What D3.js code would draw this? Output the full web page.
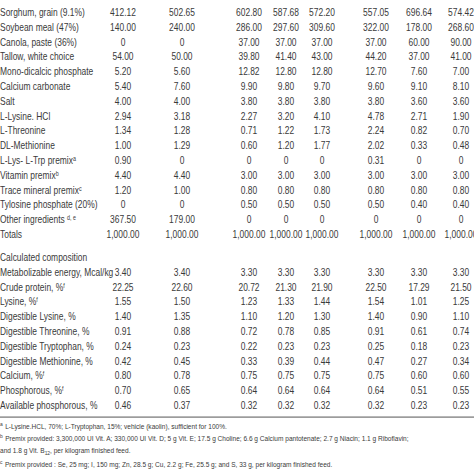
<!DOCTYPE html>
<html><head><meta charset="utf-8">
<script src="https://cdn.jsdelivr.net/npm/d3@7"></script>
<style>body{margin:0;background:#fff}text{font-family:"Liberation Sans",Arial,sans-serif;fill:#3a3a3a}</style>
</head><body><svg id="t" width="474" height="474"></svg>
<script>
// ingredient rows
const ingredients = [
  ["Sorghum, grain (9.1%)", ""], ["Soybean meal (47%)", ""], ["Canola, paste (36%)", ""],
  ["Tallow, white choice", ""], ["Mono-dicalcic phosphate", ""], ["Calcium carbonate", ""],
  ["Salt", ""], ["L-Lysine. HCl", ""], ["L-Threonine", ""], ["DL-Methionine", ""],
  ["L-Lys- L-Trp premix", "a"], ["Vitamin premix", "b"], ["Trace mineral premix", "c"],
  ["Tylosine phosphate (20%)", ""], ["Other ingredients ", "d, e"], ["Totals", ""]
];
const ingredientValues = [
  ["412.12","502.65","602.80","587.68","572.20","557.05","696.64","574.42"],
  ["140.00","240.00","286.00","297.60","309.60","322.00","178.00","268.60"],
  ["0","0","37.00","37.00","37.00","37.00","60.00","90.00"],
  ["54.00","50.00","39.80","41.40","43.00","44.20","37.00","41.00"],
  ["5.20","5.60","12.82","12.80","12.80","12.70","7.60","7.00"],
  ["5.40","7.60","9.90","9.80","9.70","9.60","9.10","8.10"],
  ["4.00","4.00","3.80","3.80","3.80","3.80","3.60","3.60"],
  ["2.94","3.18","2.27","3.20","4.10","4.78","2.71","1.90"],
  ["1.34","1.28","0.71","1.22","1.73","2.24","0.82","0.70"],
  ["1.00","1.29","0.60","1.20","1.77","2.02","0.33","0.48"],
  ["0.90","0","0","0","0","0.31","0","0"],
  ["4.40","4.40","3.00","3.00","3.00","3.00","3.00","3.00"],
  ["1.20","1.00","0.80","0.80","0.80","0.80","0.80","0.80"],
  ["0","0","0.50","0.50","0.50","0.50","0.40","0.40"],
  ["367.50","179.00","0","0","0","0","0","0"],
  ["1,000.00","1,000.00","1,000.00","1,000.00","1,000.00","1,000.00","1,000.00","1,000.00"]
];
const composition = [
  ["Metabolizable energy, Mcal/kg", ""], ["Crude protein, %", "f"], ["Lysine, %", "f"],
  ["Digestible Lysine, %", ""], ["Digestible Threonine, %", ""], ["Digestible Tryptophan, %", ""],
  ["Digestible Methionine, %", ""], ["Calcium, %", "f"], ["Phosphorous, %", "f"],
  ["Available phosphorous, %", ""]
];
const compositionValues = [
  ["3.40","3.40","3.30","3.30","3.30","3.30","3.30","3.30"],
  ["22.25","22.60","20.72","21.30","21.90","22.50","17.29","21.50"],
  ["1.55","1.50","1.23","1.33","1.44","1.54","1.01","1.25"],
  ["1.40","1.35","1.10","1.20","1.30","1.40","0.90","1.10"],
  ["0.91","0.88","0.72","0.78","0.85","0.91","0.61","0.74"],
  ["0.24","0.23","0.22","0.23","0.23","0.25","0.18","0.23"],
  ["0.42","0.45","0.33","0.39","0.44","0.47","0.27","0.34"],
  ["0.80","0.78","0.75","0.75","0.75","0.75","0.60","0.60"],
  ["0.70","0.65","0.64","0.64","0.64","0.64","0.51","0.55"],
  ["0.46","0.37","0.32","0.32","0.32","0.32","0.23","0.23"]
];
const columns = ["c1","c2","c3","c4","c5","c6","c7","c8"];
const footnotes = [
  ["a", "L-Lysine.HCL, 70%; L-Tryptophan, 15%; vehicle (kaolin), sufficient for 100%."],
  ["b", "Premix provided: 3,300,000 UI Vit. A; 330,000 UI Vit. D; 5 g Vit. E; 17.5 g Choline; 6.6 g Calcium pantotenate; 2.7 g Niacin; 1.1 g Riboflavin;"],
  ["", "and 1.8 g Vit. B12, per kilogram finished feed."],
  ["c", "Premix provided : Se, 25 mg; I, 150 mg; Zn, 28.5 g; Cu, 2.2 g; Fe, 25.5 g; and S, 33 g, per kilogram finished feed."]
];

const svg = d3.select("#t");
const x = d3.scaleOrdinal().domain(columns).range([123,182,249,286,322,376,419,461]);
const y = d3.scaleLinear().domain([0, 1]).range([16, 30.8]);
const sq = 0.82; // narrow glyphs like the scanned table

const rows = ingredients.map((d, i) => ({label: d[0], sup: d[1], vals: ingredientValues[i], r: i}))
  .concat(composition.map((d, i) => ({label: d[0], sup: d[1], vals: compositionValues[i], r: i + 17.55})));

const g = svg.selectAll("g.row").data(rows).join("g").attr("class", "row")
  .attr("transform", d => `translate(0,${y(d.r)})`);
const lab = g.append("text").attr("transform", `scale(${sq},1)`).attr("font-size", 10.3).text(d => d.label);
lab.filter(d => d.sup).append("tspan").attr("dy", -3).attr("font-size", 6.5).text(d => d.sup);
g.selectAll("text.v").data(d => d.vals.map((v, i) => ({v, c: columns[i]}))).join("text")
  .attr("class", "v").attr("transform", d => `translate(${x(d.c)},0) scale(${sq},1)`)
  .attr("text-anchor", "middle").attr("font-size", 10.3).text(d => d.v);

svg.append("text").attr("transform", `translate(0,${y(16.55)}) scale(${sq},1)`)
  .attr("font-size", 10.3).text("Calculated composition");

svg.append("line").attr("x1", 0).attr("x2", 474)
  .attr("y1", y(27.1)).attr("y2", y(27.1)).attr("stroke", "#555").attr("stroke-width", 1);

const fy = [429, 441, 453, 467];
footnotes.forEach((f, i) => {
  const t = svg.append("text").attr("transform", `translate(0,${fy[i]}) scale(0.82,1)`).attr("font-size", 8);
  if (f[0]) t.append("tspan").attr("dy", -3).attr("font-size", 6).text(f[0]);
  if (f[1].includes("B12")) {
    const [a, b] = f[1].split("B12");
    t.append("tspan").text(a + "B");
    t.append("tspan").attr("dy", 2).attr("font-size", 6).text("12");
    t.append("tspan").attr("dy", -2).text(b);
  } else {
    t.append("tspan").attr("dy", f[0] ? 3 : 0).attr("dx", 3).text(f[1]);
  }
});
</script></body></html>
